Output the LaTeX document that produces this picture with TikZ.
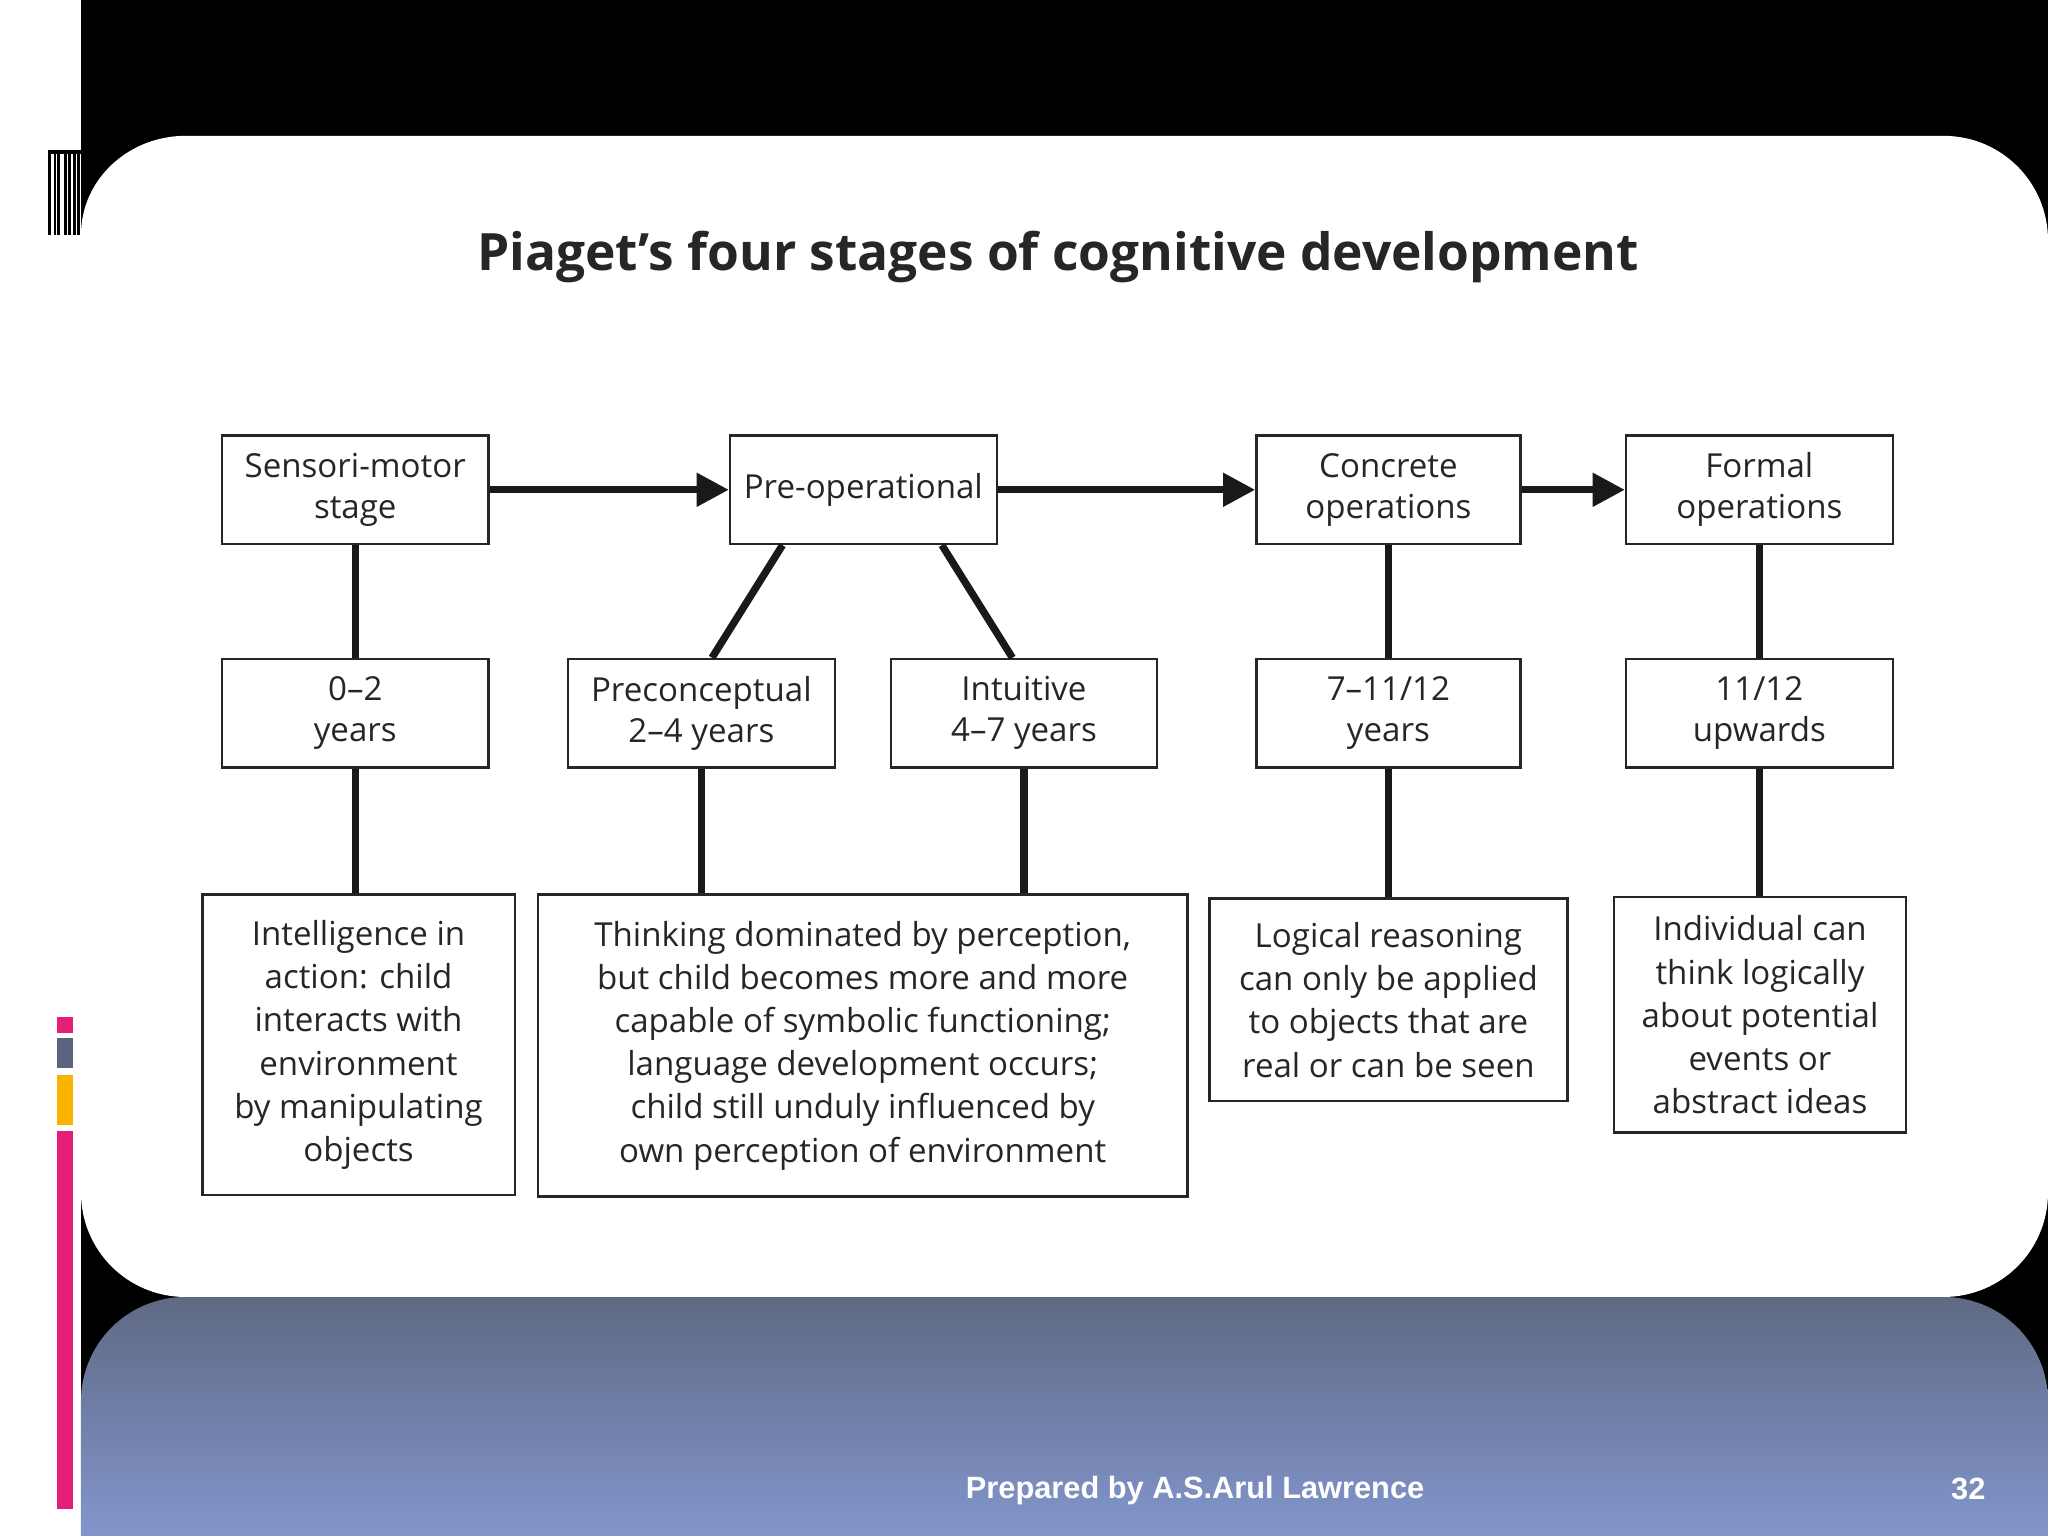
\documentclass[tikz,border=0pt]{standalone}
\usepackage{fontspec}
\setmainfont{Open Sans}
\newfontfamily\footfont{Liberation Sans}
\usetikzlibrary{arrows.meta,calc}
\definecolor{pinkbar}{RGB}{230,30,120}
\definecolor{greybar}{RGB}{90,100,125}
\definecolor{orangebar}{RGB}{250,180,0}
\definecolor{reflA}{RGB}{95,105,130}
\definecolor{reflB}{RGB}{130,150,205}
\begin{document}
\begin{tikzpicture}[x=0.01cm,y=-0.01cm,
  box/.style={draw=black!85,line width=0.5pt,fill=white,align=center,inner sep=0pt,
     font=\fontsize{7.2pt}{8.9pt}\selectfont,text=black!85},
  big/.style={box,font=\fontsize{7.2pt}{9.4pt}\selectfont},
  con/.style={line width=1.6pt,black!90},
  arr/.style={con,-{Triangle[length=7pt,width=7pt]}}]
\useasboundingbox (0,0) rectangle (1568,1176);
\fill[white] (0,0) rectangle (1568,1176);
\fill[black] (62,0) rectangle (1568,1176);
\shade[top color=reflA, bottom color=reflB] (62,1176) -- (62,1073) to[out=90,in=180] (142,993) -- (1488,993) to[out=0,in=90] (1568,1073) -- (1568,1176) -- cycle;
\fill[white] (62,180) to[out=90,in=180] (142,104) -- (1488,104) to[out=0,in=90] (1568,184) -- (1568,913) to[out=-90,in=0] (1488,993) -- (142,993) to[out=180,in=-90] (62,913) -- cycle;
% stripes
\foreach \x in {37,41,44,49,52,56,59} \fill[black] (\x,115) rectangle ++(2,65);
\fill[black] (37,115) rectangle (62,118);
% colour bars
\fill[pinkbar] (44,779) rectangle (56,791);
\fill[greybar] (44,795) rectangle (56,818);
\fill[orangebar] (44,823) rectangle (56,861);
\fill[pinkbar] (44,866) rectangle (56,1155);
\node[font=\bfseries\fontsize{11.2pt}{13pt}\selectfont,text=black!85] (title) at (810,197) {Piaget’s four stages of cognitive development};
% row 1
\node[box,minimum width=2.04cm,minimum height=0.83cm] (s1) at (272,375) {Sensori-motor\\stage};
\node[box,minimum width=2.04cm,minimum height=0.83cm] (s2) at (661,375) {Pre-operational};
\node[box,minimum width=2.02cm,minimum height=0.83cm] (s3) at (1063,375) {Concrete\\operations};
\node[box,minimum width=2.04cm,minimum height=0.83cm] (s4) at (1347,375) {Formal\\operations};
% row 2
\node[box,minimum width=2.04cm,minimum height=0.83cm] (a) at (272,546) {0–2\\years};
\node[box,minimum width=2.04cm,minimum height=0.83cm] (b) at (537,546) {Preconceptual\\2–4 years};
\node[box,minimum width=2.04cm,minimum height=0.83cm] (c) at (784,546) {Intuitive\\4–7 years};
\node[box,minimum width=2.02cm,minimum height=0.83cm] (d) at (1063,546) {7–11/12\\years};
\node[box,minimum width=2.04cm,minimum height=0.83cm] (e) at (1347,546) {11/12\\upwards};
% row 3
\node[big,minimum width=2.39cm,minimum height=2.30cm] (f) at (274.5,800) {Intelligence in\\action: child\\interacts with\\environment\\by manipulating\\objects};
\node[big,minimum width=4.97cm,minimum height=2.31cm] (g) at (660.5,800.5) {Thinking dominated by perception,\\but child becomes more and more\\capable of symbolic functioning;\\language development occurs;\\child still unduly influenced by\\own perception of environment};
\node[big,minimum width=2.74cm,minimum height=1.55cm] (h) at (1063,765.5) {Logical reasoning\\can only be applied\\to objects that are\\real or can be seen};
\node[big,minimum width=2.23cm,minimum height=1.80cm] (i) at (1347.5,777) {Individual can\\think logically\\about potential\\events or\\abstract ideas};
% connectors
\draw[arr] (s1) -- (s2);
\draw[arr] (s2) -- (s3);
\draw[arr] (s3) -- (s4);
\draw[con] (s1) -- (a);
\draw[con] ([xshift=0.41cm]s2.south west) -- ([xshift=1.11cm]b.north west);
\draw[con] ([xshift=1.63cm]s2.south west) -- ([xshift=0.94cm]c.north west);
\draw[con] (s3) -- (d);
\draw[con] (s4) -- (e);
\draw[con] (a) -- (a |- f.north);
\draw[con] (b) -- (b |- g.north);
\draw[con] (c) -- (c |- g.north);
\draw[con] (d) -- (d |- h.north);
\draw[con] (e) -- (e |- i.north);
% footer
\node[font=\footfont\bfseries\fontsize{6.7pt}{7pt}\selectfont,text=white] (foot) at (915,1141) {Prepared by A.S.Arul Lawrence};
\node[font=\footfont\bfseries\fontsize{6.7pt}{7pt}\selectfont,text=white] (num) at (1507,1140) {32};
\end{tikzpicture}
\end{document}
